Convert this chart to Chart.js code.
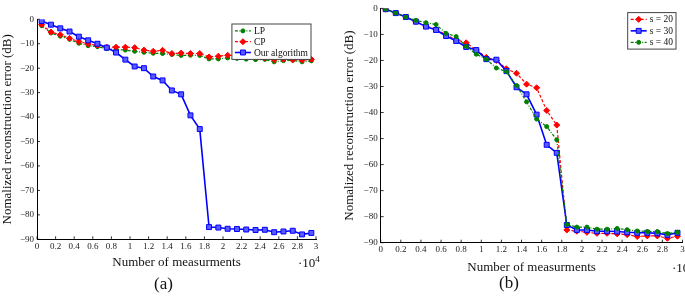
<!DOCTYPE html>
<html>
<head>
<meta charset="utf-8">
<script src="https://cdn.jsdelivr.net/npm/chart.js@4/dist/chart.umd.min.js"></script>
<style>
  html, body { margin: 0; padding: 0; background: #fff; overflow: hidden; }
  #wrap { position: relative; width: 685px; height: 298px; overflow: hidden; }
  canvas { position: absolute; top: 0; }
  #chartA { left: 0; }
  #chartB { left: 340px; }
  .txt { position: absolute; font-family: 'Liberation Serif', 'DejaVu Serif', serif; color: #111; white-space: nowrap; }
  .exp { font-size: 13px; }
  .exp sup { font-size: 9px; vertical-align: 5px; }
  .cap { font-size: 17px; }
</style>
</head>
<body>
<div id="wrap">
  <canvas id="chartA" width="340" height="298"></canvas>
  <canvas id="chartB" width="360" height="298"></canvas>
  <div class="txt exp" style="left:298px; top:254px;">·10<sup>4</sup></div>
  <div class="txt exp" style="left:672px; top:259px;">·10<sup>4</sup></div>
  <div class="txt cap" style="left:154px; top:274px;">(a)</div>
  <div class="txt cap" style="left:499px; top:273px;">(b)</div>
</div>
<script>
// valeurs
const measurements = [500, 1500, 2500, 3500, 4500, 5500, 6500, 7500, 8500, 9500,
  10500, 11500, 12500, 13500, 14500, 15500, 16500, 17500, 18500, 19500,
  20500, 21500, 22500, 23500, 24500, 25500, 26500, 27500, 28500, 29500];

// (a) comparaison des methodes
const lpError = [-2.6, -5.6, -6.9, -8.2, -9.8, -10.8, -11.2, -12.0, -12.3, -12.6,
  -13.1, -13.5, -13.9, -14.0, -14.4, -14.8, -14.7, -14.8, -16.2, -16.2,
  -15.8, -16.0, -16.3, -16.5, -16.4, -17.4, -16.9, -16.8, -17.4, -17.0];
const cpError = [-2.2, -5.2, -6.3, -7.8, -9.1, -10.1, -10.7, -11.4, -11.4, -11.4,
  -11.6, -12.6, -13.1, -12.7, -14.0, -13.8, -14.0, -14.0, -15.4, -15.1,
  -14.7, -15.0, -15.3, -15.5, -15.8, -16.5, -16.3, -16.5, -16.7, -16.4];
const oursError = [-0.7, -2.2, -3.7, -5.0, -7.1, -8.6, -10.0, -11.6, -13.6, -16.5,
  -19.3, -20.0, -23.4, -25.0, -29.1, -30.7, -39.3, -44.9, -85.0, -85.2,
  -85.7, -85.8, -86.0, -86.2, -86.1, -87.1, -86.8, -86.5, -88.0, -87.4];

// (b) influence de la sparsite s
const s20Error = [-0.3, -1.8, -3.3, -5.0, -6.8, -8.0, -10.2, -12.0, -13.2, -16.0,
  -18.8, -20.0, -23.2, -24.9, -29.1, -30.5, -39.2, -44.8, -85.1, -85.6,
  -86.0, -86.4, -86.4, -86.6, -86.9, -87.6, -87.4, -87.4, -88.3, -87.5];
const s30Error = [-0.3, -1.8, -3.3, -5.1, -7.0, -8.3, -10.6, -12.5, -14.8, -16.0,
  -19.5, -19.7, -24.1, -30.3, -33.0, -40.8, -52.4, -55.5, -83.2, -85.1,
  -85.1, -85.6, -85.6, -85.7, -86.0, -86.2, -86.2, -86.4, -87.0, -86.2];
const s40Error = [-0.3, -1.8, -3.3, -4.6, -5.5, -6.2, -9.6, -10.8, -14.6, -17.6,
  -19.5, -22.9, -24.3, -29.6, -35.9, -42.5, -45.4, -50.5, -83.0, -84.0,
  -84.0, -84.8, -84.8, -84.5, -85.0, -85.5, -85.7, -85.7, -86.5, -86.0];

const xTickLabels = ['0', '0.2', '0.4', '0.6', '0.8', '1', '1.2', '1.4', '1.6', '1.8',
  '2', '2.2', '2.4', '2.6', '2.8', '3'];

const RED = '#ff0000', BLUE = '#0000ff', GREEN = '#008000';
const SERIF = "'Liberation Serif', 'DejaVu Serif', serif";

function points(values) {
  return measurements.map((x, i) => ({ x: x, y: values[i] }));
}

function dataset(label, values, color, kind, order) {
  const d = {
    label: label, data: points(values), order: order,
    borderColor: color, pointBorderColor: color, pointBackgroundColor: color,
    borderWidth: 1.2, pointBorderWidth: 1, tension: 0, fill: false
  };
  if (kind === 'dash') {
    d.borderDash = [3, 2];
    d.pointStyle = 'rectRot';
    d.pointRadius = 3;
  } else if (kind === 'dashdot') {
    d.borderDash = [3, 1.5, 1, 1.5];
    d.pointStyle = 'circle';
    d.pointRadius = 2;
  } else {
    d.borderWidth = 1.6;
    d.pointStyle = 'rect';
    d.pointRadius = 3.5;
    d.pointBackgroundColor = '#5a5aff';
  }
  d.pointHoverRadius = d.pointRadius;
  return d;
}

// petits traits de graduation vers l'interieur
const innerTicks = {
  id: 'innerTicks',
  beforeDatasetsDraw(chart) {
    const { ctx, chartArea: a, scales: { x, y } } = chart;
    ctx.save();
    ctx.strokeStyle = '#000';
    ctx.lineWidth = 0.8;
    ctx.beginPath();
    x.ticks.forEach(t => {
      const px = x.getPixelForValue(t.value);
      ctx.moveTo(px, a.bottom);
      ctx.lineTo(px, a.bottom - 3);
    });
    y.ticks.forEach(t => {
      const py = y.getPixelForValue(t.value);
      ctx.moveTo(a.left, py);
      ctx.lineTo(a.left + 3, py);
    });
    ctx.stroke();
    ctx.restore();
  }
};

// legende encadree dans la zone du graphe
const boxLegend = {
  id: 'boxLegend',
  afterDraw(chart, args, opts) {
    const { ctx, chartArea: a } = chart;
    const sets = chart.data.datasets;
    ctx.save();
    ctx.font = opts.size + 'px ' + SERIF;
    const tw = Math.max(...sets.map(d => ctx.measureText(d.label).width));
    const w = 22 + tw + 3;
    const h = sets.length * opts.row + 2 * opts.pad;
    const bx = a.right - opts.right - w;
    const by = a.top + opts.top;
    ctx.fillStyle = '#fff';
    ctx.fillRect(bx, by, w, h);
    ctx.strokeStyle = '#444';
    ctx.lineWidth = 1;
    ctx.strokeRect(bx, by, w, h);
    sets.forEach((d, i) => {
      const cy = by + opts.pad + opts.row * (i + 0.5);
      ctx.strokeStyle = d.borderColor;
      ctx.lineWidth = d.borderWidth;
      ctx.setLineDash(d.borderDash || []);
      ctx.beginPath();
      ctx.moveTo(bx + 3, cy);
      ctx.lineTo(bx + 19, cy);
      ctx.stroke();
      ctx.setLineDash([]);
      ctx.fillStyle = d.pointBackgroundColor;
      ctx.strokeStyle = d.pointBorderColor;
      ctx.lineWidth = 1;
      Chart.helpers.drawPoint(ctx, { pointStyle: d.pointStyle, radius: d.pointRadius, rotation: 0, borderWidth: 1 }, bx + 11, cy);
      ctx.fillStyle = '#111';
      ctx.textBaseline = 'middle';
      ctx.textAlign = 'left';
      ctx.fillText(d.label, bx + 22, cy + 0.5);
    });
    ctx.restore();
  }
};

function makeChart(id, datasets, box) {
  return new Chart(document.getElementById(id), {
    type: 'line',
    data: { datasets: datasets },
    options: {
      responsive: false,
      animation: false,
      devicePixelRatio: 1,
      layout: { padding: { top: box.top, right: box.right, left: 0, bottom: 0 } },
      plugins: {
        legend: { display: false },
        tooltip: { enabled: false },
        boxLegend: box.legend
      },
      scales: {
        x: {
          type: 'linear', min: 0, max: 30000,
          grid: { display: false, drawTicks: false },
          border: { color: '#000', width: 1 },
          ticks: {
            stepSize: 2000, autoSkip: false, maxRotation: 0, padding: 2,
            color: '#222', font: { family: SERIF, size: 9 },
            callback: (v, i) => xTickLabels[i]
          },
          title: {
            display: true, text: 'Number of measurments', color: '#111',
            font: { family: SERIF, size: 13 },
            padding: { top: 0, bottom: box.xTitleBottom }
          },
          afterFit: s => { s.height = box.xHeight; }
        },
        y: {
          min: -90, max: 0,
          grid: { display: false, drawTicks: false },
          border: { color: '#000', width: 1 },
          ticks: {
            stepSize: 10, padding: 3,
            color: '#222', font: { family: SERIF, size: 9 },
            callback: v => (v < 0 ? '\u2212' + Math.abs(v) : String(v))
          },
          title: {
            display: true, text: 'Nomalized reconstruction error (dB)', color: '#111',
            font: { family: SERIF, size: 13 },
            padding: { top: box.yTitleLeft, bottom: 0 }
          },
          afterFit: s => { s.width = box.yWidth; }
        }
      }
    },
    plugins: [innerTicks, boxLegend]
  });
}

makeChart('chartA', [
  dataset('LP', lpError, GREEN, 'dashdot', 2),
  dataset('CP', cpError, RED, 'dash', 1),
  dataset('Our algorithm', oursError, BLUE, 'solid', 0)
], {
  top: 19.3, right: 24, xHeight: 58.7, yWidth: 37, xTitleBottom: 27.2, yTitleLeft: 0,
  legend: { right: 5, top: 4.7, row: 10.8, pad: 1.5, size: 9.5 }
});

makeChart('chartB', [
  dataset('s = 20', s20Error, RED, 'dash', 2),
  dataset('s = 30', s30Error, BLUE, 'solid', 1),
  dataset('s = 40', s40Error, GREEN, 'dashdot', 0)
], {
  top: 5.5, right: 17.5, xHeight: 55.3, yWidth: 40.7, xTitleBottom: 22.2, yTitleLeft: 2.2,
  legend: { right: 6.5, top: 4.2, row: 11.5, pad: 1, size: 9.5 }
});
</script>
</body>
</html>
